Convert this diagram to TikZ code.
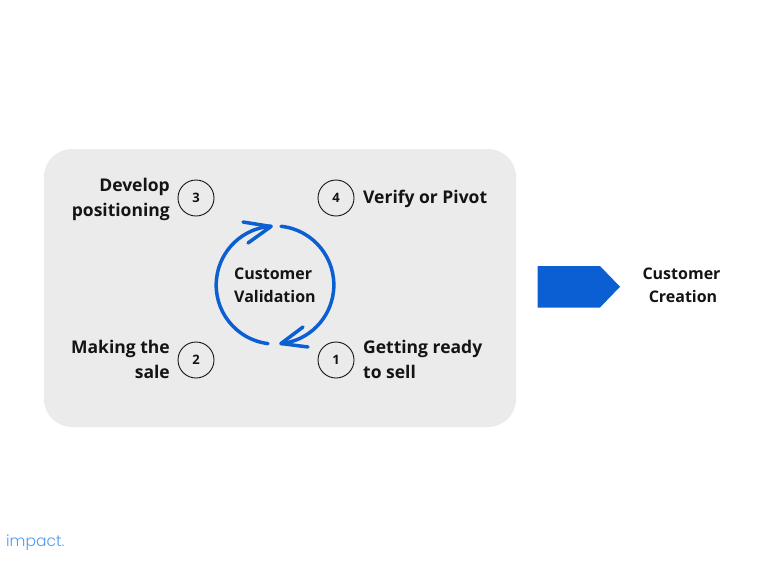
\documentclass[tikz,border=0pt]{standalone}
\usepackage{fontspec}
\setmainfont{Open Sans}
\newfontfamily\logofont{Poppins Light}
\usetikzlibrary{calc}
\definecolor{panelgray}{HTML}{EBEBEB}
\definecolor{cycleblue}{HTML}{0B5FD3}
\definecolor{logoblue}{HTML}{4D9BF5}
\definecolor{inkdark}{HTML}{141414}
\tikzset{
  stage/.style={font=\fontsize{17.5}{25}\selectfont\bfseries, text=inkdark, inner sep=0pt, align=left},
  stageright/.style={stage, align=right},
  badge/.style={circle, draw=inkdark, line width=0.9pt, minimum size=36pt, inner sep=0pt, font=\fontsize{13}{13}\selectfont\bfseries, text=inkdark},
  middletext/.style={font=\fontsize{16}{23}\selectfont\bfseries, text=inkdark, align=center, inner sep=0pt},
  cyclearc/.style={draw=cycleblue, line width=3.5pt, line cap=round, line join=round},
}
\begin{document}
\begin{tikzpicture}[x=1pt,y=-1pt]
\useasboundingbox (0,0) rectangle (768,576);
\fill[white] (0,0) rectangle (768,576);
\fill[panelgray, rounded corners=28pt] (44,149) rectangle (516,427);

\node[badge] (b3) at (196,198) {3};
\node[badge] (b4) at (336,198) {4};
\node[badge] (b2) at (196,360) {2};
\node[badge] (b1) at (336,360) {1};

\node[stageright, anchor=east] (t3) at (170,199) {Develop\\positioning};
\node[stage, anchor=west] (t4) at (363,199) {Verify or Pivot};
\node[stageright, anchor=east] (t2) at (170,359.5) {Making the\\sale};
\node[stage, anchor=west] (t1) at (363,359.5) {Getting ready\\to sell};

\node[middletext, align=left, anchor=west] (mid) at (234,285) {Customer\\Validation};

\coordinate (c) at (275,285);
\coordinate (s1) at (281,226.3);
\coordinate (e1) at (281,343.5);
\coordinate (s2) at (268,343.6);
\coordinate (e2) at (271,226.5);
\coordinate (a1) at (303,327);
\coordinate (a2) at (308,347);
\coordinate (a3) at (243,222);
\coordinate (a4) at (248,243);

\draw[cyclearc] (s1) arc[start angle=84, end angle=-84, radius=59pt];
\draw[cyclearc] (a1) -- (e1) -- (a2);
\draw[cyclearc] (s2) arc[start angle=263, end angle=94, radius=59pt];
\draw[cyclearc] (a3) -- (e2) -- (a4);

\fill[cycleblue] (537.5,266) -- (600,266) -- (620,286.75) -- (600,307.5) -- (537.5,307.5) -- cycle;
\node[middletext] (creation) at (681.5,285) {Customer\\\hspace*{3pt}Creation};

\node[anchor=base west, inner sep=0pt, text=logoblue, font=\fontsize{15.5}{17}\logofont] (logo) at (6,546) {impact.};
\end{tikzpicture}
\end{document}
